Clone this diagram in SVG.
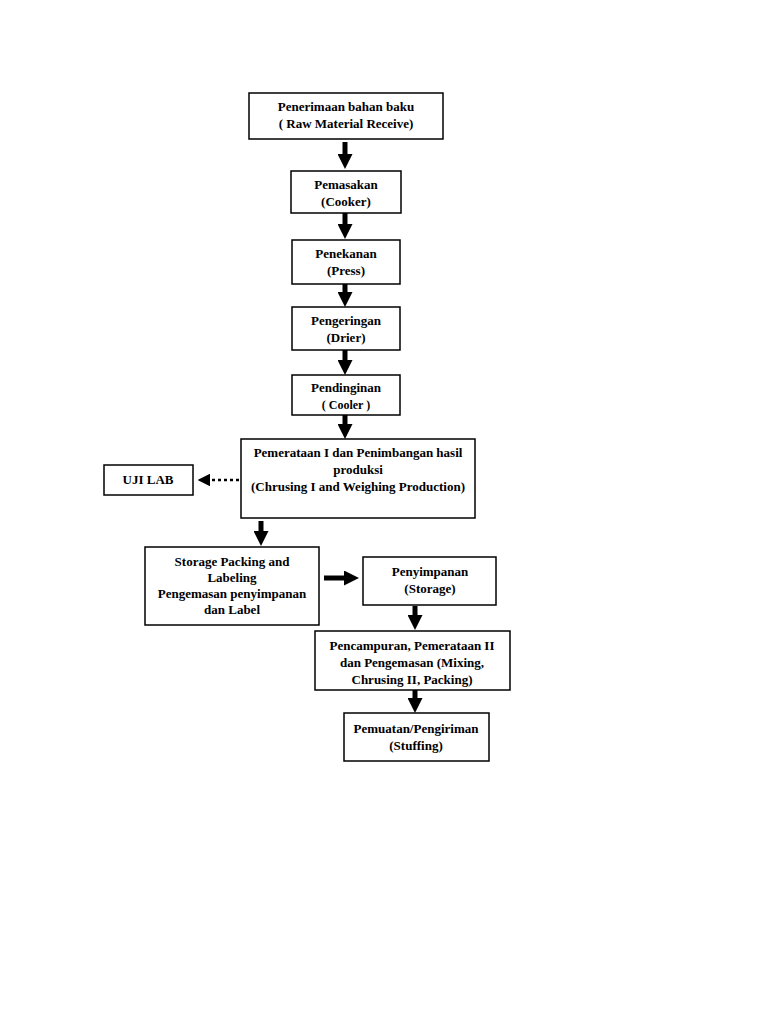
<svg xmlns="http://www.w3.org/2000/svg" width="768" height="1024" viewBox="0 0 768 1024">
<style>
rect{fill:#fff;stroke:#000;stroke-width:1.5}
text{font-family:"Liberation Serif",serif;font-weight:bold;font-size:13px;text-anchor:middle;fill:#000}
.s{stroke:#000;stroke-width:5}
.d{stroke:#000;stroke-width:2.5;stroke-dasharray:3,3}
</style>
<defs>
<marker id="ah" markerWidth="3" markerHeight="3" refX="1.2" refY="1.5" orient="auto" markerUnits="strokeWidth" viewBox="0 0 3 3"><path d="M0,0L3,1.5L0,3z"/></marker>
<marker id="ah2" markerWidth="5" markerHeight="5" refX="2" refY="2.5" orient="auto" markerUnits="strokeWidth" viewBox="0 0 5 5"><path d="M0,0L5,2.5L0,5z"/></marker>
</defs>
<rect width="768" height="1024" style="stroke:none"/>
<g id="connectors">
<line class="s" x1="345" y1="142" x2="345" y2="160" marker-end="url(#ah)"/>
<line class="s" x1="345" y1="213" x2="345" y2="230" marker-end="url(#ah)"/>
<line class="s" x1="345" y1="284" x2="345" y2="298" marker-end="url(#ah)"/>
<line class="s" x1="345" y1="350" x2="345" y2="366" marker-end="url(#ah)"/>
<line class="s" x1="345" y1="415" x2="345" y2="430" marker-end="url(#ah)"/>
<line class="d" x1="239" y1="480" x2="205" y2="480" marker-end="url(#ah2)"/>
<line class="s" x1="261" y1="521" x2="261" y2="537" marker-end="url(#ah)"/>
<line class="s" x1="324" y1="578" x2="350" y2="578" marker-end="url(#ah)"/>
<line class="s" x1="415" y1="606" x2="415" y2="621" marker-end="url(#ah)"/>
<line class="s" x1="415" y1="690" x2="415" y2="704" marker-end="url(#ah)"/>
</g>
<g id="n1"><rect x="249" y="93" width="194" height="46"/><text x="346" y="111">Penerimaan bahan baku</text><text x="346" y="128">( Raw Material Receive)</text></g>
<g id="n2"><rect x="291" y="171" width="110" height="42"/><text x="346" y="189">Pemasakan</text><text x="346" y="206">(Cooker)</text></g>
<g id="n3"><rect x="292" y="240" width="108" height="44"/><text x="346" y="258">Penekanan</text><text x="346" y="275">(Press)</text></g>
<g id="n4"><rect x="292" y="307" width="108" height="43"/><text x="346" y="325">Pengeringan</text><text x="346" y="342">(Drier)</text></g>
<g id="n5"><rect x="292" y="375" width="108" height="40"/><text x="346" y="392">Pendinginan</text><text x="346" y="409" style="font-size:12px">( Cooler )</text></g>
<g id="n6"><rect x="241" y="439" width="234" height="79"/><text x="358" y="457">Pemerataan I dan Penimbangan hasil</text><text x="358" y="474">produksi</text><text x="358" y="491">(Chrusing I and Weighing Production)</text></g>
<g id="n7"><rect x="104" y="465" width="89" height="30"/><text x="148" y="484">UJI LAB</text></g>
<g id="n8"><rect x="145" y="547" width="174" height="78"/><text x="232" y="566">Storage Packing and</text><text x="232" y="582">Labeling</text><text x="232" y="598">Pengemasan penyimpanan</text><text x="232" y="614">dan Label</text></g>
<g id="n9"><rect x="363" y="557" width="133" height="48"/><text x="430" y="576">Penyimpanan</text><text x="430" y="593">(Storage)</text></g>
<g id="n10"><rect x="315" y="631" width="195" height="59"/><text x="412" y="650">Pencampuran, Pemerataan II</text><text x="412" y="667">dan Pengemasan (Mixing,</text><text x="412" y="684">Chrusing II, Packing)</text></g>
<g id="n11"><rect x="344" y="713" width="145" height="48"/><text x="416" y="733">Pemuatan/Pengiriman</text><text x="416" y="750">(Stuffing)</text></g>
</svg>
